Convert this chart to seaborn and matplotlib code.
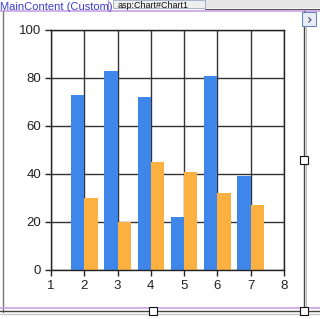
import matplotlib
matplotlib.use("Agg")
import matplotlib.pyplot as plt
import seaborn as sns
import pandas as pd
from matplotlib.lines import Line2D
from matplotlib.patches import Rectangle

# data
x_values = [2, 3, 4, 5, 6, 7]
series_a = [73, 83, 72, 22, 81, 39]
series_b = [30, 20, 45, 41, 32, 27]
series_names = ["Series1", "Series2"]
x_ticks = [1, 2, 3, 4, 5, 6, 7, 8]
y_ticks = [0, 20, 40, 60, 80, 100]

df = pd.DataFrame({
    "x": x_values * 2,
    "value": series_a + series_b,
    "series": [series_names[0]] * len(x_values) + [series_names[1]] * len(x_values),
})

sns.set_style("white")
plt.rcParams["font.family"] = ["Liberation Sans", "DejaVu Sans"]

W, H = 320, 319
fig = plt.figure(figsize=(W / 100, H / 100), dpi=100)

def fx(px):
    return px / W

def fy(py):
    return 1 - py / H

ax = fig.add_axes([fx(51), fy(270), fx(284) - fx(51), fy(30) - fy(270)])
ax.set_axisbelow(True)
sns.barplot(data=df, x="x", y="value", hue="series", native_scale=True,
            palette=["#3E86EA", "#FCB040"], width=0.8, dodge=True,
            saturation=1, legend=False, ax=ax, linewidth=0, errorbar=None)
ax.set_xlim(1, 8)
ax.set_ylim(0, 100)
ax.set_xticks(x_ticks)
ax.set_yticks(y_ticks)
ax.set_xticklabels([str(t) for t in x_ticks])
ax.set_yticklabels([str(t) for t in y_ticks])
ax.grid(True, color="#333333", linewidth=1.0)
ax.set_xlabel("")
ax.set_ylabel("")
for s in ax.spines.values():
    s.set_color("#222222")
    s.set_linewidth(1.0)
ax.tick_params(axis="both", direction="out", length=4, width=1, color="#222222",
               labelsize=9.5, labelcolor="#222222", pad=3,
               bottom=True, left=True)

# designer frame decorations
def hline(py, x0, x1, color, lw=1.0):
    fig.add_artist(Line2D([fx(x0), fx(x1)], [fy(py), fy(py)], color=color, lw=lw,
                          transform=fig.transFigure))

def vline(px, y0, y1, color, lw=1.0):
    fig.add_artist(Line2D([fx(px), fx(px)], [fy(y0), fy(y1)], color=color, lw=lw,
                          transform=fig.transFigure))

def rect(px, py, w, h, fc, ec="none", lw=0.8, z=5):
    fig.add_artist(Rectangle((fx(px), fy(py + h)), w / W, h / H, facecolor=fc,
                             edgecolor=ec, lw=lw, transform=fig.transFigure, zorder=z))

# top gray strip
rect(205, 0, 115, 8, "#E6E6E6", z=1)
rect(113, 0, 92, 8, "#EEEEEE", ec="#9AA8C8", lw=0.6, z=2)
hline(8.5, 205, 320, "#555555", 0.8)
hline(11, 0, 320, "#C9A2E6", 1.2)
vline(108, 0, 11, "#B58CE0", 0.8)
fig.text(fx(0), fy(10), "MainContent (Custom)", color="#3B3BD6", fontsize=8,
         ha="left", va="baseline")
fig.text(fx(118), fy(7.5), "asp:Chart#Chart1", color="#111111", fontsize=6.5,
         ha="left", va="baseline")

# left border
vline(2.5, 11, 312, "#777777", 1.0)
# right border
vline(303.5, 11, 311, "#444444", 1.0)
vline(305.5, 11, 311, "#BBBBBB", 0.8)
# bottom border
hline(307.5, 0, 320, "#C9A2E6", 1.2)
hline(310.5, 0, 320, "#444444", 1.0)
hline(313.5, 0, 320, "#C8C8C8", 1.0)

# smart-tag button
rect(302, 12, 14, 14, "#E6EEF8", ec="#6F86B8", lw=0.8, z=6)
fig.text(fx(309), fy(19.5), "\u203a", color="#333355", fontsize=10, ha="center",
         va="center", family=["DejaVu Sans"], zorder=7)

# handles
for hx, hy in [(153, 311), (304, 311), (304, 160)]:
    rect(hx - 4, hy - 4, 8, 8, "white", ec="#111111", lw=0.8, z=8)

fig.savefig("out.png", dpi=100)
